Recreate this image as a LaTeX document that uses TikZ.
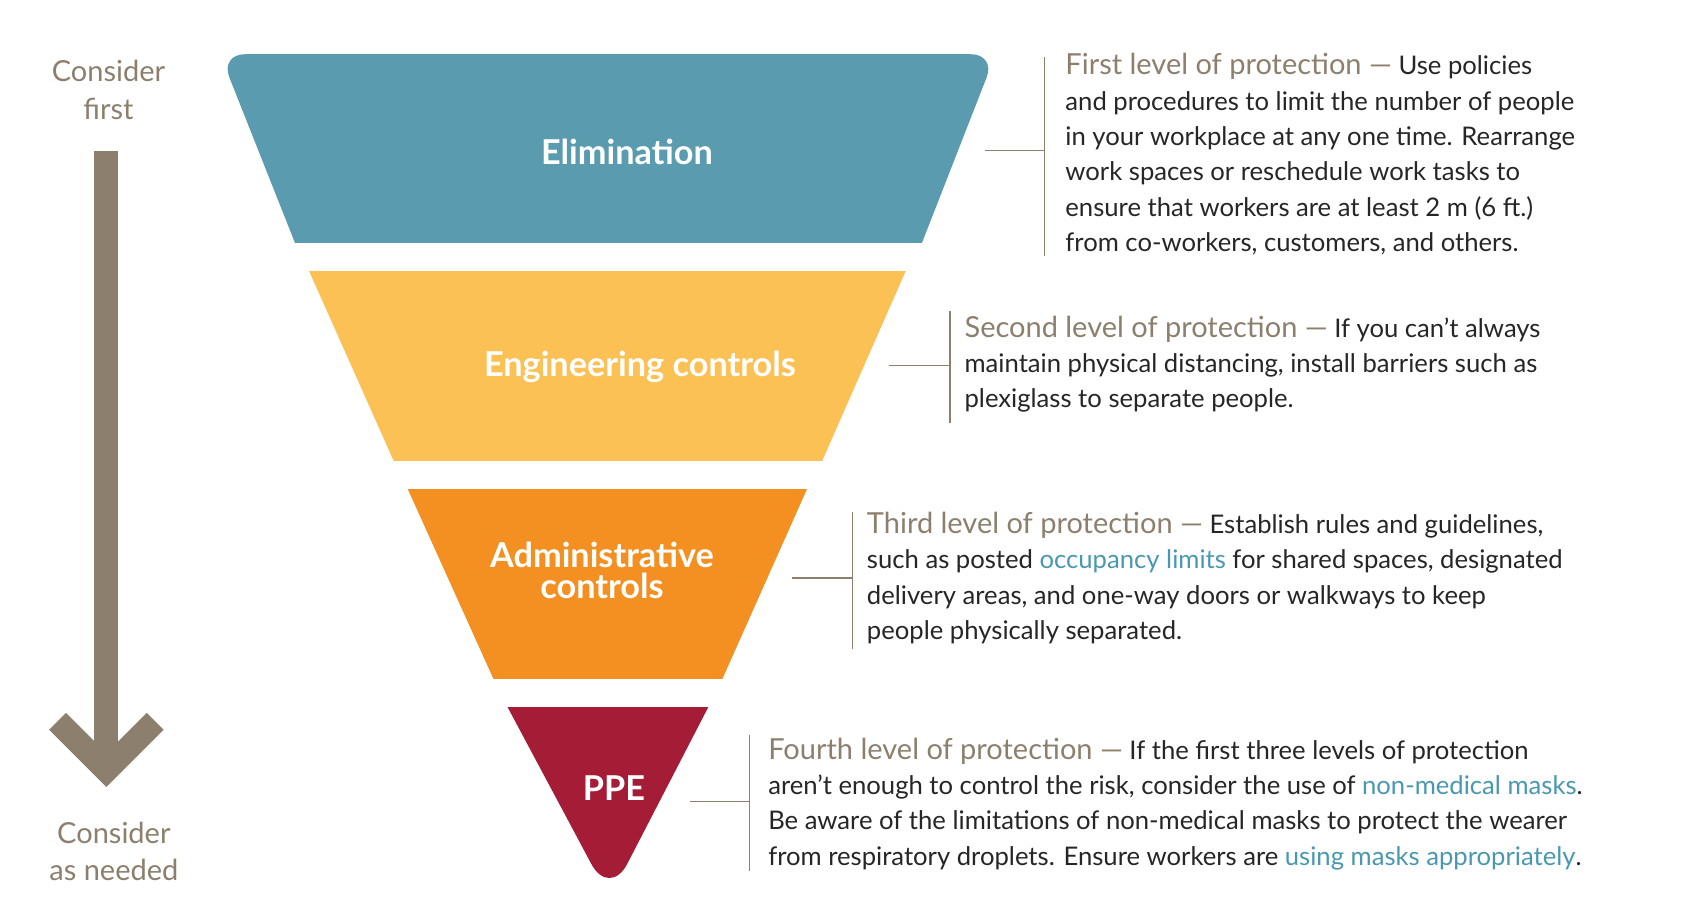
\documentclass[tikz,border=0pt]{standalone}
\usepackage{fontspec}
\setmainfont{Lato}
\definecolor{elim}{HTML}{5A9BB0}
\definecolor{engi}{HTML}{FBC155}
\definecolor{admin}{HTML}{F39021}
\definecolor{ppe}{HTML}{A51C37}
\definecolor{taupe}{HTML}{8C7F6E}
\definecolor{lnk}{HTML}{4A98B0}
\newcommand{\lvl}[1]{{\color{taupe}\fontsize{16.5}{20}\selectfont #1 —}}
\tikzset{
  lbl/.style={text=white,font=\bfseries\fontsize{19.5}{21}\selectfont,align=center},
  body/.style={anchor=north west,inner sep=0pt,align=left,font=\fontsize{14.6}{20.1}\selectfont,text=black!85},
  conn/.style={draw=taupe,line width=0.8pt},
  side/.style={text=taupe,font=\fontsize{16.5}{21.5}\selectfont,align=center}
}
\begin{document}
\begin{tikzpicture}[x=0.02170cm,y=-0.02170cm]
\useasboundingbox (0,0) rectangle (1560,841);
% funnel
\fill[elim] (850,224) -- (272,224) [rounded corners=14] -- (203,50) -- (918,50) [sharp corners] -- cycle;
\fill[engi] (285,250) -- (835,250) -- (758,425) -- (363,425) -- cycle;
\fill[admin] (376,451) -- (744,451) -- (666,626) -- (455,626) -- cycle;
\fill[ppe] (653,652) -- (468,652) [rounded corners=22] -- (562,828) [sharp corners] -- cycle;
\node[lbl] (e) at (578,140) {Elimination};
\node[lbl] (g) at (590,338) {Engineering controls};
\node[lbl] (a) at (555,526) {Administrative\\[-3pt]controls};
\node[lbl] (p) at (566,727) {PPE};
% connectors
\coordinate (e1) at (908,139); \coordinate (e2) at (963,139);
\coordinate (e3) at (963,53); \coordinate (e4) at (963,236);
\draw[conn] (e1) -- (e2); \draw[conn] (e3) -- (e4);
\coordinate (g1) at (820,337); \coordinate (g2) at (876,337);
\coordinate (g3) at (876,287); \coordinate (g4) at (876,390);
\draw[conn] (g1) -- (g2); \draw[conn] (g3) -- (g4);
\coordinate (a1) at (730,533); \coordinate (a2) at (786,533);
\coordinate (a3) at (786,472); \coordinate (a4) at (786,598);
\draw[conn] (a1) -- (a2); \draw[conn] (a3) -- (a4);
\coordinate (p1) at (636,739); \coordinate (p2) at (691,739);
\coordinate (p3) at (691,678); \coordinate (p4) at (691,803);
\draw[conn] (p1) -- (p2); \draw[conn] (p3) -- (p4);
% texts
\node[body] (t1) at (982,49) {\lvl{First level of protection} Use policies\\and procedures to limit the number of people\\in your workplace at any one time. Rearrange\\work spaces or reschedule work tasks to\\ensure that workers are at least 2 m (6 ft.)\\from co-workers, customers, and others.};
\node[body] (t2) at (889,291) {\lvl{Second level of protection} If you can’t always\\maintain physical distancing, install barriers such as\\plexiglass to separate people.};
\node[body] (t3) at (799,472) {\lvl{Third level of protection} Establish rules and guidelines,\\such as posted {\color{lnk}occupancy limits} for shared spaces, designated\\delivery areas, and one-way doors or walkways to keep\\people physically separated.};
\node[body] (t4) at (708,680) {\lvl{Fourth level of protection} If the first three levels of protection\\aren’t enough to control the risk, consider the use of {\color{lnk}non-medical masks}.\\Be aware of the limitations of non-medical masks to protect the wearer\\from respiratory droplets. Ensure workers are {\color{lnk}using masks appropriately}.};
% left arrow
\node[side] (cf) at (100,83) {Consider\\first};
\node[side] (cn) at (105,785) {Consider\\as needed};
\coordinate (s1) at (98,139); \coordinate (s2) at (98,712);
\draw[taupe,line width=22*0.0217cm] (s1) -- (s2);
\coordinate (h1) at (53,665); \coordinate (h2) at (98,710); \coordinate (h3) at (143,665);
\draw[taupe,line width=22*0.0217cm,miter limit=10] (h1) -- (h2) -- (h3);
\end{tikzpicture}
\end{document}
